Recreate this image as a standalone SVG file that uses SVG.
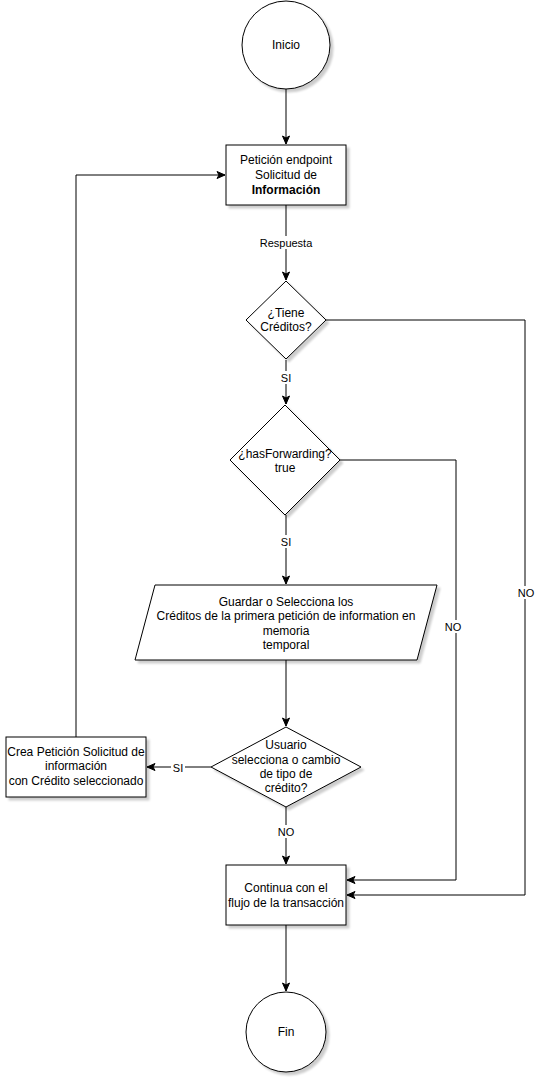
<svg xmlns="http://www.w3.org/2000/svg" width="546" height="1087" viewBox="0 0 546 1087">
<style>
.s{fill:#fff;stroke:#000;stroke-width:1;filter:url(#sh)}
.t{font-family:"Liberation Sans",Arial,sans-serif;font-size:12px;fill:#000;text-anchor:middle}
.b{font-weight:bold}
.e{fill:none;stroke:#000;stroke-width:1}
.lb{fill:#fff}
.l{font-family:"Liberation Sans",Arial,sans-serif;font-size:11px;fill:#000;text-anchor:middle}
</style>
<defs>
<filter id="sh" x="-10%" y="-10%" width="130%" height="130%">
<feGaussianBlur in="SourceAlpha" stdDeviation="1.2"/>
<feOffset dx="3" dy="3" result="o"/>
<feComponentTransfer><feFuncA type="linear" slope="0.2"/></feComponentTransfer>
<feMerge><feMergeNode/><feMergeNode in="SourceGraphic"/></feMerge>
</filter>
<marker id="a" markerWidth="10" markerHeight="10" refX="9" refY="5" orient="auto" markerUnits="userSpaceOnUse">
<path d="M1,1.5 L9,5 L1,8.5 L3,5 z" fill="#000" stroke="#000" stroke-width="1"/>
</marker>
</defs>
<g id="connectors">
<path class="e" d="M286,89 V144" marker-end="url(#a)"/>
<path class="e" d="M286,205 V280" marker-end="url(#a)"/>
<path class="e" d="M286,360 V404" marker-end="url(#a)"/>
<path class="e" d="M286,515 V584" marker-end="url(#a)"/>
<path class="e" d="M286,660 V726" marker-end="url(#a)"/>
<path class="e" d="M286,807 V864" marker-end="url(#a)"/>
<path class="e" d="M286,925 V991" marker-end="url(#a)"/>
<path class="e" d="M326,320 H525 V895 H347" marker-end="url(#a)"/>
<path class="e" d="M340,460 H456 V880 H347" marker-end="url(#a)"/>
<path class="e" d="M211,767 H147" marker-end="url(#a)"/>
<path class="e" d="M76,737 V175 H225" marker-end="url(#a)"/>
<rect class="lb" x="258" y="236" width="56" height="13"/>
<text class="l" x="286" y="247">Respuesta</text>
<rect class="lb" x="279" y="371" width="14" height="13"/>
<text class="l" x="286" y="382">SI</text>
<rect class="lb" x="279" y="535" width="14" height="13"/>
<text class="l" x="286" y="546">SI</text>
<rect class="lb" x="171" y="761" width="14" height="13"/>
<text class="l" x="178" y="772">SI</text>
<rect class="lb" x="277" y="825" width="19" height="13"/>
<text class="l" x="286" y="836">NO</text>
<rect class="lb" x="444" y="620" width="19" height="13"/>
<text class="l" x="453" y="631">NO</text>
<rect class="lb" x="516" y="586" width="19" height="13"/>
<text class="l" x="526" y="597">NO</text>
</g>
<g id="inicio">
<circle class="s" cx="286" cy="45" r="44"/>
<text class="t" x="286" y="49">Inicio</text>
</g>
<g id="peticion">
<rect class="s" x="226" y="145" width="120" height="60"/>
<text class="t" x="286" y="164">Petición endpoint</text>
<text class="t" x="286" y="179">Solicitud de</text>
<text class="t b" x="286" y="194">Información</text>
</g>
<g id="tiene-creditos">
<polygon class="s" points="286,281 326,320 286,359 246,320"/>
<text class="t" x="286" y="317">¿Tiene</text>
<text class="t" x="286" y="331">Créditos?</text>
</g>
<g id="has-forwarding">
<polygon class="s" points="285,405 340,460 285,515 230,460"/>
<text class="t" x="285" y="458">¿hasForwarding?</text>
<text class="t" x="285" y="472">true</text>
</g>
<g id="guardar">
<polygon class="s" points="155,585 437,585 417,660 135,660"/>
<text class="t" x="286" y="606">Guardar o Selecciona los</text>
<text class="t" x="286" y="620">Créditos de la primera petición de information en</text>
<text class="t" x="286" y="635">memoria</text>
<text class="t" x="286" y="649">temporal</text>
</g>
<g id="usuario">
<polygon class="s" points="286,727 361,767 286,807 211,767"/>
<text class="t" x="286" y="749">Usuario</text>
<text class="t" x="286" y="764">selecciona o cambio</text>
<text class="t" x="286" y="778">de tipo de</text>
<text class="t" x="286" y="792">crédito?</text>
</g>
<g id="crea">
<rect class="s" x="6" y="737" width="140" height="60"/>
<text class="t" x="76" y="756">Crea Petición Solicitud de</text>
<text class="t" x="76" y="770">información</text>
<text class="t" x="76" y="785">con Crédito seleccionado</text>
</g>
<g id="continua">
<rect class="s" x="226" y="865" width="120" height="60"/>
<text class="t" x="286" y="892">Continua con el</text>
<text class="t" x="286" y="907">flujo de la transacción</text>
</g>
<g id="fin">
<circle class="s" cx="286" cy="1032" r="40"/>
<text class="t" x="286" y="1036">Fin</text>
</g>
</svg>
